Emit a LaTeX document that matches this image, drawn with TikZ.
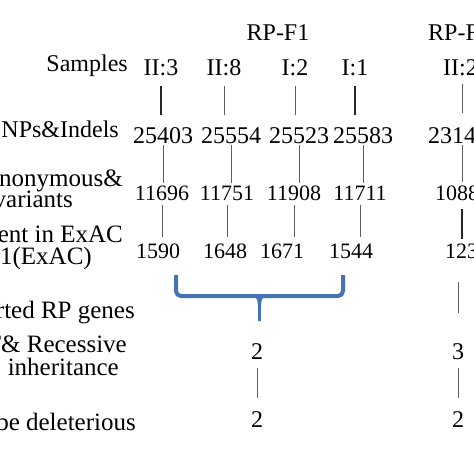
\documentclass[tikz,border=0pt]{standalone}
\usepackage{fontspec}
\setmainfont{Liberation Serif}
\usepackage{tikz}
\usetikzlibrary{positioning}
\definecolor{bracecol}{RGB}{70,116,178}
\definecolor{linegray}{RGB}{95,95,95}
\tikzset{
  lbl/.style={anchor=base east,inner sep=0pt,font=\fontsize{24}{26}\selectfont},
  biglbl/.style={lbl,font=\fontsize{25}{27}\selectfont},
  num/.style={anchor=base,inner sep=0pt,font=\fontsize{24}{26}\selectfont},
  sml/.style={anchor=base,inner sep=0pt,font=\fontsize{22}{24}\selectfont},
  conn/.style={draw=linegray,line width=0.8pt},
  bold conn/.style={draw=black!85,line width=1.3pt}
}
\begin{document}
\begin{tikzpicture}[x=1pt,y=-1pt]
        \useasboundingbox (0,0) rectangle (474,474);
        \clip (0,0) rectangle (474,474);
        % row labels
        \node[lbl] (lsam) at (128,71) {Samples};
        \node[lbl] (lsnp) at (119,137) {SNPs\&Indels};
        \node[biglbl] (lns1) at (123,186) {Nonsynonymous\&};
        \node[biglbl] (lns2) at (73,207) {splicing variants};
        \node[biglbl] (lex1) at (123,242) {Absent in ExAC};
        \node[biglbl] (lex2) at (92,264) {or MAF<0.001(ExAC)};
        \node[biglbl] (lrep) at (135,318) {Reported RP genes};
        \node[biglbl] (lrc1) at (127,352) {LOF/MT\& Recessive};
        \node[biglbl] (lrc2) at (119,375) {inheritance};
        \node[biglbl] (ldel) at (136,430) {Predicted to be deleterious};
        % family RP-F1
        \node[num] (f1) at (278,40) {RP-F1};
        \foreach \lab/\x [count=\k] in {II:3/161,II:8/224,I:2/295,I:1/355}
          \node[num] (s\k) at (\x,75) {\lab};
        \foreach \val/\x [count=\k] in {25403/163,25554/231,25523/299,25583/363}
          \node[num] (a\k) at (\x,143) {\val};
        \foreach \val/\x [count=\k] in {11696/162,11751/227,11908/294,11711/360}
          \node[sml] (b\k) at (\x,200) {\val};
        \foreach \val/\x [count=\k] in {1590/158,1648/225,1671/282,1544/351}
          \node[sml] (c\k) at (\x,258) {\val};
        \node[num] (d1) at (257,359) {2};
        \node[num] (e1) at (257,427) {2};
        \foreach \k in {1,...,4} {
          \draw[conn,shorten <=10pt,shorten >=12pt] (s\k.south) -- (s\k.south |- a\k.north);
          \draw[conn,shorten <=2pt,shorten >=2pt] (a\k.south) -- (a\k.south |- b\k.north);
          \draw[conn,shorten <=5pt,shorten >=6pt] (b\k.south) -- (b\k.south |- c\k.north);
        }
        \draw[bold conn,shorten <=10pt,shorten >=12pt] (s1.south) -- (s1.south |- a1.north);
        \draw[bold conn,shorten <=10pt,shorten >=12pt] (s4.south) -- (s4.south |- a4.north);
        \draw[conn,shorten <=9pt,shorten >=13pt] (d1) -- (e1);
        % brace over the four samples
        \draw[bracecol,line width=4pt,rounded corners=5pt]
          (176,275) -- (176,296) -- (343,296) -- (343,275);
        \fill[bracecol] (251,295) .. controls (258,297) .. (258.2,321)
          -- (260.8,321) .. controls (261,297) .. (268,295) -- cycle;
        % family RP-F2
        \coordinate (rx) at (462,0);
        \node[num,anchor=base west] (f2) at (428,40) {RP-F2};
        \node[num,anchor=base west] (r1) at (443,75) {II:2};
        \node[num,anchor=base west] (r2) at (428,143) {2314};
        \node[sml,anchor=base west] (r3) at (435,200) {1088};
        \node[sml,anchor=base west] (r4) at (445,258) {123};
        \node[num] (r6) at (458,359) {3};
        \node[num] (r7) at (458,427) {2};
        \draw[conn,shorten <=8pt,shorten >=14pt] (rx |- r1.south) -- (rx |- r2.north);
        \draw[conn,shorten <=2pt,shorten >=3pt] (rx |- r2.south) -- (rx |- r3.north);
        \draw[bold conn,shorten <=9pt,shorten >=4pt] (rx |- r3.south) -- (rx |- r4.north);
        \draw[conn,shorten <=24pt,shorten >=30pt] (r4.south -| r6) -- (r6.north);
        \draw[conn,shorten <=9pt,shorten >=13pt] (r6) -- (r7);
      \end{tikzpicture}
\end{document}
